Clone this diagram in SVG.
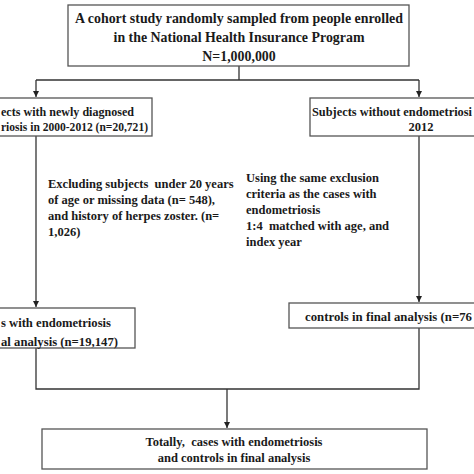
<svg xmlns="http://www.w3.org/2000/svg" width="474" height="474" viewBox="0 0 474 474">
<defs>
<marker id="arr" viewBox="0 0 10 10" refX="10" refY="5" markerWidth="6" markerHeight="6" orient="auto" markerUnits="userSpaceOnUse">
<path d="M0,0 L10,5 L0,10 z" fill="#222"/>
</marker>
<style>
.box{fill:#fff;stroke:#555;stroke-width:1.3}
.t{font-family:"Liberation Serif","Times New Roman",serif;font-weight:bold;fill:#1a1a1a;white-space:pre}
.big{font-size:13.9px}
.mid{font-size:12.5px}
.ln{fill:none;stroke:#333;stroke-width:1.3}
</style>
</defs>
<rect width="474" height="474" fill="#fff"/>
<g id="connectors">
<path class="ln" d="M239,66 V80 M36,80 H419"/>
<path class="ln" d="M36,80 V97" marker-end="url(#arr)"/>
<path class="ln" d="M419,80 V97" marker-end="url(#arr)"/>
<path class="ln" d="M36,136 V307" marker-end="url(#arr)"/>
<path class="ln" d="M419,136 V302" marker-end="url(#arr)"/>
<path class="ln" d="M36,348 V389 H419 V328"/>
<path class="ln" d="M227,389 V428" marker-end="url(#arr)"/>
</g>
<g id="top">
<rect class="box" x="68" y="5" width="341" height="61"/>
<text class="t big" x="239" y="23" text-anchor="middle">A cohort study randomly sampled from people enrolled</text>
<text class="t big" x="239" y="42" text-anchor="middle">in the National Health Insurance Program</text>
<text class="t big" x="239" y="61" text-anchor="middle">N=1,000,000</text>
</g>
<g id="cases">
<rect class="box" x="-2" y="98" width="154" height="38"/>
<text class="t mid" x="1" y="116" textLength="133" lengthAdjust="spacingAndGlyphs">ects with newly diagnosed</text>
<text class="t mid" x="1" y="131" textLength="147" lengthAdjust="spacingAndGlyphs">riosis in 2000-2012 (n=20,721)</text>
</g>
<g id="noendo">
<rect class="box" x="310" y="98" width="170" height="38"/>
<text class="t mid" x="312" y="116" textLength="160" lengthAdjust="spacingAndGlyphs">Subjects without endometriosi</text>
<text class="t mid" x="421" y="131" text-anchor="middle">2012</text>
</g>
<g id="exclude">
<text class="t mid" x="48" y="188">Excluding subjects  under 20 years</text>
<text class="t mid" x="48" y="204">of age or missing data (n= 548),</text>
<text class="t mid" x="48" y="220">and history of herpes zoster. (n=</text>
<text class="t mid" x="48" y="236">1,026)</text>
</g>
<g id="matching">
<text class="t mid" x="246" y="182">Using the same exclusion</text>
<text class="t mid" x="246" y="198">criteria as the cases with</text>
<text class="t mid" x="246" y="214">endometriosis</text>
<text class="t mid" x="246" y="230">1:4  matched with age, and</text>
<text class="t mid" x="246" y="246">index year</text>
</g>
<g id="casesfinal">
<rect class="box" x="-2" y="308" width="137" height="40"/>
<text class="t mid" x="1" y="327" textLength="110" lengthAdjust="spacingAndGlyphs">s with endometriosis</text>
<text class="t mid" x="1" y="346" textLength="117" lengthAdjust="spacingAndGlyphs">al analysis (n=19,147)</text>
</g>
<g id="controlsfinal">
<rect class="box" x="289" y="303" width="190" height="25"/>
<text class="t mid" x="305" y="321" textLength="167" lengthAdjust="spacingAndGlyphs">controls in final analysis (n=76</text>
</g>
<g id="total">
<rect class="box" x="42" y="429" width="385" height="40"/>
<text class="t mid" x="234" y="446" text-anchor="middle">Totally,  cases with endometriosis</text>
<text class="t mid" x="234" y="462" text-anchor="middle">and controls in final analysis</text>
</g>
</svg>
